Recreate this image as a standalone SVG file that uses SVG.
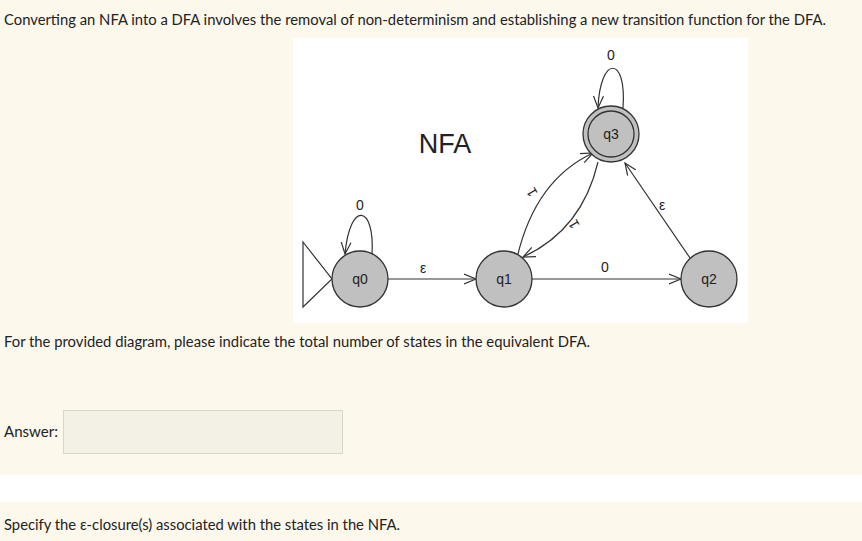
<svg xmlns="http://www.w3.org/2000/svg" width="862" height="541" viewBox="0 0 862 541">
<style>
.t{font-family:Lato,"Liberation Sans",sans-serif;font-size:14.5px;fill:#222}
.s{fill:#c0c0c0;stroke:#333;stroke-width:1.3}
.l{font-family:"Liberation Sans",Arial,sans-serif;font-size:14px;fill:#222;text-anchor:middle}
.e{fill:none;stroke:#333;stroke-width:1.2}
</style>
<defs><marker id="a" markerWidth="14" markerHeight="12" refX="12" refY="6" orient="auto" markerUnits="userSpaceOnUse"><polyline points="0,1 12,6 0,11" fill="none" stroke="#333" stroke-width="1.2"/></marker></defs>
<rect width="862" height="541" fill="#fdf8ec"/>
<rect x="0" y="475" width="862" height="27" fill="#ffffff"/>
<text class="t" x="4" y="25" textLength="822" lengthAdjust="spacingAndGlyphs">Converting an NFA into a DFA involves the removal of non-determinism and establishing a new transition function for the DFA.</text>
<rect x="293" y="38" width="455" height="285" fill="#ffffff"/>
<text x="445" y="153" style="font-family:'Liberation Sans',Arial,sans-serif;font-size:27px;fill:#222;text-anchor:middle">NFA</text>
<g id="connectors">
<path class="e" d="M388,279 L476,279" marker-end="url(#a)"/>
<text class="l" x="423" y="273">ε</text>
<path class="e" d="M532,279 L681,279" marker-end="url(#a)"/>
<text class="l" x="605" y="272">0</text>
<path class="e" d="M690,258 L625,163" marker-end="url(#a)"/>
<text class="l" x="662" y="210">ε</text>
<path class="e" d="M517,258 Q535,180 593,153" marker-end="url(#a)"/>
<text class="l" transform="translate(536,190) rotate(-120)">1</text>
<path class="e" d="M598,162 Q582,230 523,257" marker-end="url(#a)"/>
<text class="l" transform="translate(578,222) rotate(-120)">1</text>
<path class="e" d="M372,254 C375,205 350,200 345,254" marker-end="url(#a)"/>
<text class="l" x="360" y="210">0</text>
<path class="e" d="M623,108 C627,55 600,55 598,108" marker-end="url(#a)"/>
<text class="l" x="611" y="60">0</text>
</g>
<polygon points="303,242 332,279 303,307" fill="#fff" stroke="#333" stroke-width="1.2"/>
<g id="q0"><circle class="s" cx="360" cy="279" r="28"/><text class="l" x="360" y="284">q0</text></g>
<g id="q1"><circle class="s" cx="504" cy="279" r="28"/><text class="l" x="504" y="284">q1</text></g>
<g id="q2"><circle class="s" cx="709" cy="279" r="28"/><text class="l" x="709" y="284">q2</text></g>
<g id="q3"><circle class="s" cx="611" cy="134" r="28"/><circle class="s" cx="611" cy="134" r="23"/><text class="l" x="611" y="139">q3</text></g>
<text class="t" x="4" y="347" textLength="586" lengthAdjust="spacingAndGlyphs">For the provided diagram, please indicate the total number of states in the equivalent DFA.</text>
<text class="t" x="4" y="437" textLength="54" lengthAdjust="spacingAndGlyphs">Answer:</text>
<rect x="63.5" y="410.5" width="279" height="43" fill="#f3f0e6" stroke="#d8d4c8"/>
<text class="t" x="4" y="530" textLength="396" lengthAdjust="spacingAndGlyphs">Specify the ε-closure(s) associated with the states in the NFA.</text>
</svg>
